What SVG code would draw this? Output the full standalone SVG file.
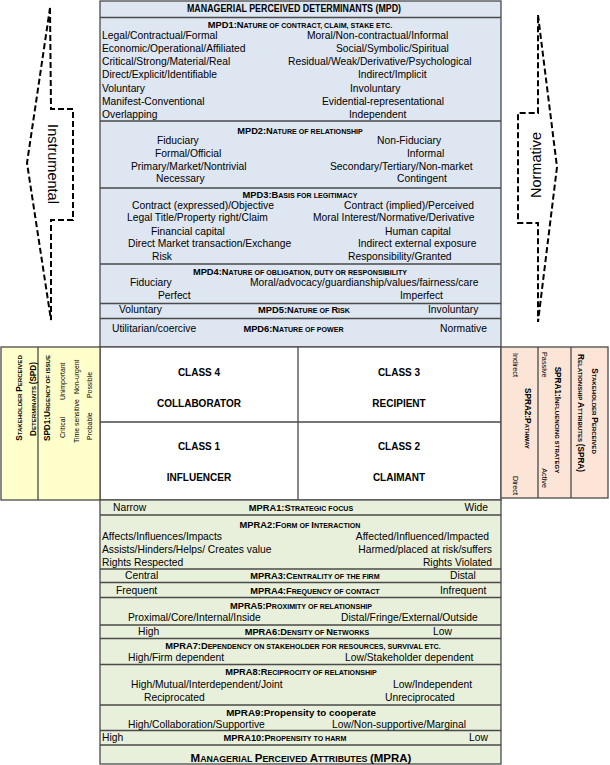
<svg xmlns="http://www.w3.org/2000/svg" width="610" height="765" viewBox="0 0 610 765">
<style>
text{font-family:"Liberation Sans",Arial,sans-serif;fill:#000}
.r{font-size:10.3px}
.m{text-anchor:middle}
.e{text-anchor:end}
.B{font-weight:bold;font-size:9.3px}
.S{font-weight:bold;font-size:7.1px}
.cls{font-weight:bold;font-size:10px;text-anchor:middle}
.ln{stroke:#4a4a4a;stroke-width:1.3;fill:none}
.bx{stroke:#4a4a4a;stroke-width:1.3}
.arr{fill:none;stroke:#000;stroke-width:2;stroke-dasharray:6,3}
.arrt{font-size:14.5px}
.sl{font-size:6.9px}
.sr{font-size:7.3px}
.sB{font-weight:bold;font-size:8.2px}
.sS{font-weight:bold;font-size:6.1px}
.LB{font-weight:bold;font-size:11.5px}
.LS{font-weight:bold;font-size:8.8px}
</style>
<rect width="610" height="765" fill="#fff"/>

<g id="arrow-instrumental">
<polygon class="arr" points="50,8 51,109 73,109 73,220 51,220 51,320 27,163"/>
<text class="arrt m" transform="translate(48,164) rotate(90)">Instrumental</text>
</g>
<g id="arrow-normative">
<polygon class="arr" points="538,15 557,167 538,322 538,223 518,223 518,113 538,113"/>
<text class="arrt m" transform="translate(540.5,165) rotate(-90)">Normative</text>
</g>

<g id="mpd">
<rect x="100" y="1" width="401" height="346" fill="#DDE6F1" class="bx"/>
<path class="ln" d="M100 17.5H501M100 121H501M100 188H501M100 264H501M100 303.5H501M100 318.5H501"/>
<text class="m" x="294" y="12" font-weight="bold" font-size="10.5" textLength="214" lengthAdjust="spacingAndGlyphs">MANAGERIAL PERCEIVED DETERMINANTS (MPD)</text>

<g id="mpd1">
<text class="m" x="300" y="28"><tspan class="B">MPD1:N</tspan><tspan class="S">ATURE OF CONTRACT, CLAIM, STAKE ETC.</tspan></text>
<text class="r" x="102" y="38.5">Legal/Contractual/Formal</text>
<text class="r" x="307" y="38.5">Moral/Non-contractual/Informal</text>
<text class="r" x="102" y="51.8">Economic/Operational/Affiliated</text>
<text class="r" x="336" y="51.8">Social/Symbolic/Spiritual</text>
<text class="r" x="102" y="65">Critical/Strong/Material/Real</text>
<text class="r" x="288" y="65">Residual/Weak/Derivative/Psychological</text>
<text class="r" x="102" y="78.3">Direct/Explicit/Identifiable</text>
<text class="r" x="358" y="78.3">Indirect/Implicit</text>
<text class="r" x="102" y="91.5">Voluntary</text>
<text class="r" x="350" y="91.5">Involuntary</text>
<text class="r" x="102" y="104.8">Manifest-Conventional</text>
<text class="r" x="322" y="104.8">Evidential-representational</text>
<text class="r" x="102" y="118">Overlapping</text>
<text class="r" x="349" y="118">Independent</text>
</g>
<g id="mpd2">
<text class="m" x="300" y="133.5"><tspan class="B">MPD2:N</tspan><tspan class="S">ATURE OF RELATIONSHIP</tspan></text>
<text class="r" x="157" y="144">Fiduciary</text>
<text class="r" x="377" y="144">Non-Fiduciary</text>
<text class="r" x="155" y="157">Formal/Official</text>
<text class="r" x="407" y="157">Informal</text>
<text class="r" x="131" y="169.5">Primary/Market/Nontrivial</text>
<text class="r" x="330" y="169.5">Secondary/Tertiary/Non-market</text>
<text class="r" x="156" y="182">Necessary</text>
<text class="r" x="397" y="182">Contingent</text>
</g>
<g id="mpd3">
<text class="m" x="300" y="197.5"><tspan class="B">MPD3:B</tspan><tspan class="S">ASIS FOR LEGITIMACY</tspan></text>
<text class="r" x="132" y="208.5">Contract (expressed)/Objective</text>
<text class="r" x="344" y="208.5">Contract (implied)/Perceived</text>
<text class="r" x="127" y="221">Legal Title/Property right/Claim</text>
<text class="r" x="313" y="221">Moral Interest/Normative/Derivative</text>
<text class="r" x="151" y="234.5">Financial capital</text>
<text class="r" x="385" y="234.5">Human capital</text>
<text class="r" x="128" y="247">Direct Market transaction/Exchange</text>
<text class="r" x="358" y="247">Indirect external exposure</text>
<text class="r" x="152" y="260">Risk</text>
<text class="r" x="348" y="260">Responsibility/Granted</text>
</g>
<g id="mpd4">
<text class="m" x="300" y="275"><tspan class="B">MPD4:N</tspan><tspan class="S">ATURE OF OBLIGATION, DUTY OR RESPONSIBILITY</tspan></text>
<text class="r" x="130" y="286">Fiduciary</text>
<text class="r" x="250" y="286">Moral/advocacy/guardianship/values/fairness/care</text>
<text class="r" x="158" y="299">Perfect</text>
<text class="r" x="400" y="299">Imperfect</text>
</g>
<g id="mpd5">
<text class="r" x="119" y="313">Voluntary</text>
<text class="m" x="304" y="313"><tspan class="B">MPD5:N</tspan><tspan class="S">ATURE OF </tspan><tspan class="B">R</tspan><tspan class="S">ISK</tspan></text>
<text class="r" x="428" y="313">Involuntary</text>
</g>
<g id="mpd6">
<text class="r" x="112" y="332">Utilitarian/coercive</text>
<text class="m" x="293.5" y="332"><tspan class="B">MPD6:N</tspan><tspan class="S">ATURE OF POWER</tspan></text>
<text class="r" x="440" y="332">Normative</text>
</g>
</g>

<g id="classes">
<rect x="100" y="347" width="401" height="153" fill="#fff" class="bx"/>
<path class="ln" d="M298 347V500M100 422H501"/>
<g id="class4"><text class="cls" x="199" y="375.5">CLASS 4</text><text class="cls" x="199" y="407">COLLABORATOR</text></g>
<g id="class3"><text class="cls" x="399" y="375.5">CLASS 3</text><text class="cls" x="399" y="407">RECIPIENT</text></g>
<g id="class1"><text class="cls" x="199" y="450">CLASS 1</text><text class="cls" x="199" y="481">INFLUENCER</text></g>
<g id="class2"><text class="cls" x="399" y="450">CLASS 2</text><text class="cls" x="399" y="481">CLAIMANT</text></g>
</g>

<g id="spd">
<rect x="1" y="347" width="99" height="153" fill="#FFFFCC" class="bx"/>
<path class="ln" d="M38 347V500"/>
<text class="m" transform="translate(21.5,398) rotate(-90)"><tspan class="sB">S</tspan><tspan class="sS">TAKEHOLDER </tspan><tspan class="sB">P</tspan><tspan class="sS">ERCEIVED</tspan></text>
<text class="m" transform="translate(36,399) rotate(-90)"><tspan class="sB">D</tspan><tspan class="sS">ETERMINANTS </tspan><tspan class="sB">(SPD)</tspan></text>
<text class="m" transform="translate(50,398) rotate(-90)"><tspan class="sB">SPD1:U</tspan><tspan class="sS">RGENCY OF ISSUE</tspan></text>
<text class="sl" transform="translate(64.5,438) rotate(-90)">Critical</text>
<text class="sl" transform="translate(64.5,400) rotate(-90)">Unimportant</text>
<text class="sl" transform="translate(78.5,443) rotate(-90)">Time sensitive</text>
<text class="sl" transform="translate(78.5,394) rotate(-90)">Non-urgent</text>
<text class="sl" transform="translate(92,440) rotate(-90)">Probable</text>
<text class="sl" transform="translate(92,398) rotate(-90)">Possible</text>
</g>

<g id="spra">
<rect x="501" y="347" width="107" height="151" fill="#FCE4D6" class="bx"/>
<path class="ln" d="M538 347V498M571 347V498"/>
<text class="m" transform="translate(592,411) rotate(90)"><tspan class="sB">S</tspan><tspan class="sS">TAKEHOLDER </tspan><tspan class="sB">P</tspan><tspan class="sS">ERCEIVED</tspan></text>
<text class="m" transform="translate(578,413) rotate(90)"><tspan class="sB">R</tspan><tspan class="sS">ELATIONSHIP </tspan><tspan class="sB">A</tspan><tspan class="sS">TTRIBUTES </tspan><tspan class="sB">(SPRA)</tspan></text>
<text class="m" transform="translate(555,420) rotate(90)"><tspan class="sB">SPRA1:I</tspan><tspan class="sS">NFLUENCING STRATEGY</tspan></text>
<text class="sr" transform="translate(542,352) rotate(90)">Passive</text>
<text class="sr e" transform="translate(542,488) rotate(90)">Active</text>
<text class="m" transform="translate(524.5,418.5) rotate(90)"><tspan class="sB">SPRA2:P</tspan><tspan class="sS">ATHWAY</tspan></text>
<text class="sr" transform="translate(512.5,353) rotate(90)">Indirect</text>
<text class="sr e" transform="translate(512.5,495) rotate(90)">Direct</text>
</g>

<g id="mpra">
<rect x="100" y="500" width="401" height="264" fill="#E8F0DB" class="bx"/>
<path class="ln" d="M100 515H501M100 569H501M100 582.5H501M100 597.5H501M100 625H501M100 638.5H501M100 664.5H501M100 705H501M100 730.5H501M100 745H501"/>
<g id="mpra1">
<text class="r" x="113" y="511">Narrow</text>
<text class="m" x="301" y="511"><tspan class="B">MPRA1:S</tspan><tspan class="S">TRATEGIC FOCUS</tspan></text>
<text class="r e" x="488" y="511">Wide</text>
</g>
<g id="mpra2">
<text class="m" x="300" y="527.5"><tspan class="B">MPRA2:F</tspan><tspan class="S">ORM OF </tspan><tspan class="B">I</tspan><tspan class="S">NTERACTION</tspan></text>
<text class="r" x="102" y="540">Affects/Influences/Impacts</text>
<text class="r e" x="489" y="540">Affected/Influenced/Impacted</text>
<text class="r" x="102" y="553">Assists/Hinders/Helps/ Creates value</text>
<text class="r e" x="492" y="553">Harmed/placed at risk/suffers</text>
<text class="r" x="102" y="566">Rights Respected</text>
<text class="r e" x="492" y="566">Rights Violated</text>
</g>
<g id="mpra3">
<text class="r" x="125" y="579">Central</text>
<text class="m" x="315" y="579"><tspan class="B">MPRA3:C</tspan><tspan class="S">ENTRALITY OF THE FIRM</tspan></text>
<text class="r" x="450" y="579">Distal</text>
</g>
<g id="mpra4">
<text class="r" x="116" y="593.5">Frequent</text>
<text class="m" x="315" y="593.5"><tspan class="B">MPRA4:F</tspan><tspan class="S">REQUENCY OF CONTACT</tspan></text>
<text class="r" x="440" y="593.5">Infrequent</text>
</g>
<g id="mpra5">
<text class="m" x="301" y="608.5"><tspan class="B">MPRA5:P</tspan><tspan class="S">ROXIMITY OF RELATIONSHIP</tspan></text>
<text class="r" x="128" y="621">Proximal/Core/Internal/Inside</text>
<text class="r" x="341" y="621">Distal/Fringe/External/Outside</text>
</g>
<g id="mpra6">
<text class="r" x="138" y="635">High</text>
<text class="m" x="307" y="635"><tspan class="B">MPRA6:D</tspan><tspan class="S">ENSITY OF </tspan><tspan class="B">N</tspan><tspan class="S">ETWORKS</tspan></text>
<text class="r" x="433" y="635">Low</text>
</g>
<g id="mpra7">
<text class="m" x="303" y="648.5"><tspan class="B">MPRA7:D</tspan><tspan class="S">EPENDENCY ON STAKEHOLDER FOR RESOURCES, SURVIVAL ETC.</tspan></text>
<text class="r" x="128" y="661">High/Firm dependent</text>
<text class="r" x="345" y="661">Low/Stakeholder dependent</text>
</g>
<g id="mpra8">
<text class="m" x="301" y="675"><tspan class="B">MPRA8:R</tspan><tspan class="S">ECIPROCITY OF RELATIONSHIP</tspan></text>
<text class="r" x="131" y="687.5">High/Mutual/Interdependent/Joint</text>
<text class="r" x="393" y="687.5">Low/Independent</text>
<text class="r" x="144" y="700.5">Reciprocated</text>
<text class="r" x="385" y="700.5">Unreciprocated</text>
</g>
<g id="mpra9">
<text class="m" x="301" y="715.5" font-weight="bold" font-size="9.8">MPRA9:Propensity to cooperate</text>
<text class="r" x="128" y="727.5">High/Collaboration/Supportive</text>
<text class="r" x="332" y="727.5">Low/Non-supportive/Marginal</text>
</g>
<g id="mpra10">
<text class="r" x="102" y="741">High</text>
<text class="m" x="285" y="741"><tspan class="B">MPRA10:P</tspan><tspan class="S">ROPENSITY TO HARM</tspan></text>
<text class="r e" x="488" y="741">Low</text>
</g>
<text class="m" x="301" y="761.5"><tspan class="LB">M</tspan><tspan class="LS">ANAGERIAL </tspan><tspan class="LB">P</tspan><tspan class="LS">ERCEIVED </tspan><tspan class="LB">A</tspan><tspan class="LS">TTRIBUTES </tspan><tspan class="LB">(MPRA)</tspan></text>
</g>
<g id="connectors"/>
</svg>
